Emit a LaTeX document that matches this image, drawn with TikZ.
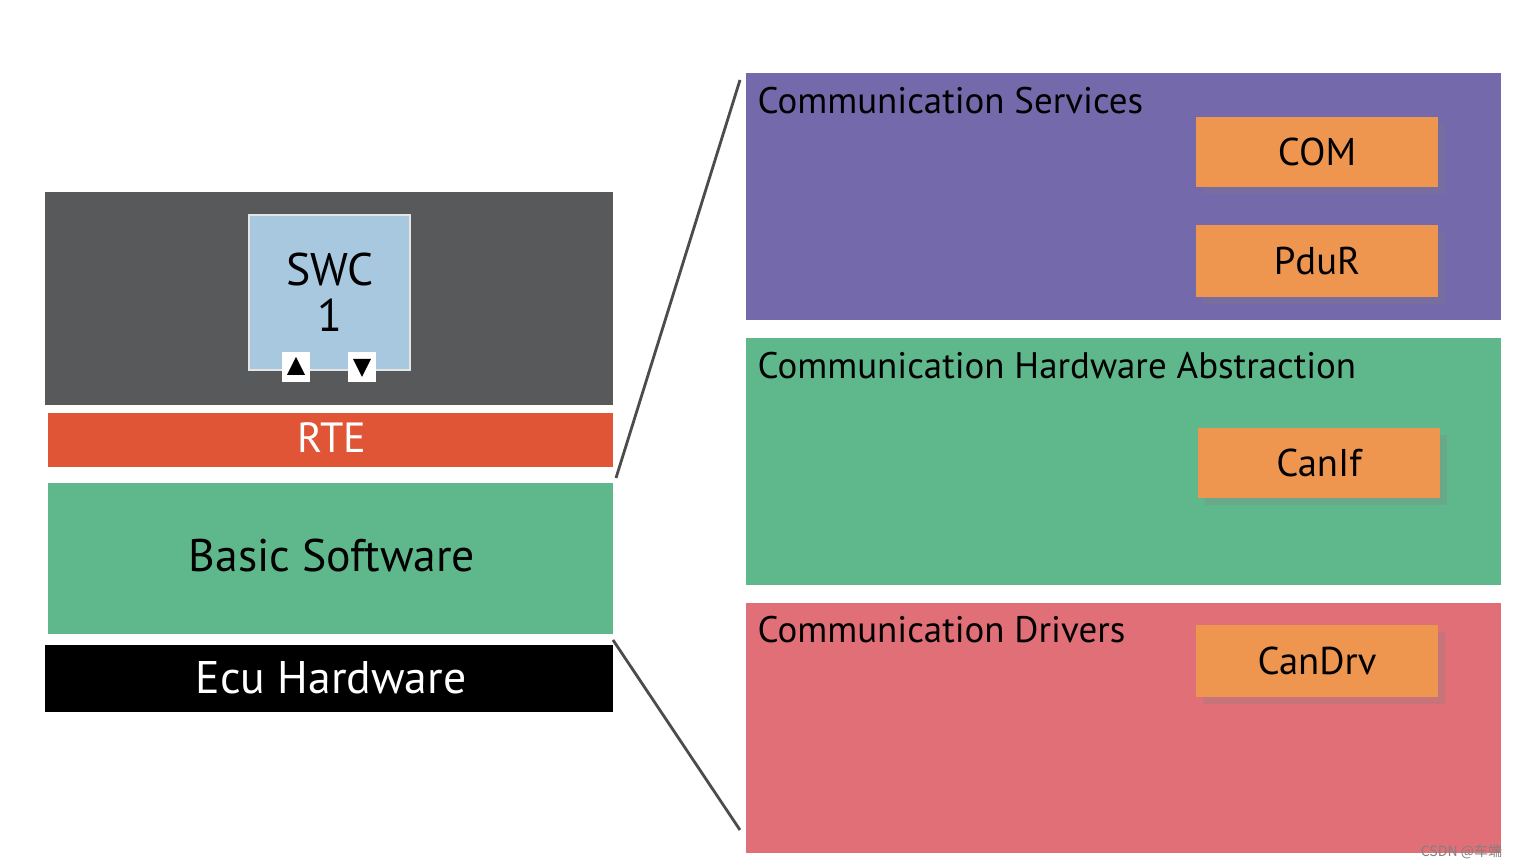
\documentclass[tikz,border=0pt]{standalone}
\usepackage{fontspec}
\usetikzlibrary{shadows}
\setmainfont{PT Sans}
\newfontfamily\cjk{Noto Sans CJK SC}
\definecolor{gr}{HTML}{58595B}
\definecolor{swc}{HTML}{A8C8E0}
\definecolor{rte}{HTML}{E05535}
\definecolor{bsw}{HTML}{5FB88C}
\definecolor{pur}{HTML}{7469AA}
\definecolor{pink}{HTML}{E06F78}
\definecolor{org}{HTML}{EE9550}
\begin{document}
\begin{tikzpicture}[x=0.01cm,y=-0.01cm,
 layer/.style={inner sep=0,outer sep=0},
 mod/.style={fill=org,inner sep=0,font=\fontsize{11}{13}\selectfont,drop shadow={opacity=0.25,shadow xshift=2pt,shadow yshift=-2pt}},
 ttl/.style={anchor=west,font=\fontsize{10.5}{12}\selectfont,inner sep=0}]
\useasboundingbox (0,0) rectangle (1520,868);
\fill[white] (0,0) rectangle (1520,868);
% left stack
\fill[gr] (45,192) rectangle (613,405);
\fill[swc,draw=white!80!gray,line width=0.6pt] (249,215) rectangle (410,370);
\node[font=\fontsize{13}{15}\selectfont,align=center] (swc) at (330,292) {SWC\\[-2pt]1};
\foreach \x/\r in {296/0,362/180}{
 \fill[white] (\x-14,352) rectangle (\x+14,382);
 \fill[black,rotate around={\r:(\x,367)}] (\x-9,375) -- (\x+9,375) -- (\x,357) -- cycle;}
\fill[rte,draw=white,line width=1.5pt] (45,410) rectangle (616,470);
\node[white,font=\fontsize{12}{14}\selectfont] (rte) at (332,438) {RTE};
\fill[bsw,draw=white,line width=1.5pt] (45,480) rectangle (616,637);
\node[font=\fontsize{13}{15}\selectfont] (bsw) at (332,556) {Basic Software};
\fill[black] (45,645) rectangle (613,712);
\node[white,font=\fontsize{13}{15}\selectfont] (ecu) at (331,678) {Ecu Hardware};
\coordinate (a1) at (616,478); \coordinate (b1) at (740,80);
\coordinate (a2) at (613,640); \coordinate (b2) at (740,830);
\draw[line width=0.8pt,gray!60!black] (a1) -- (b1) (a2) -- (b2);
% right
\fill[pur] (746,73) rectangle (1501,320);
\fill[bsw] (746,338) rectangle (1501,585);
\fill[pink] (746,603) rectangle (1501,853);
\node[ttl] (t1) at (757,101) {Communication Services};
\node[ttl] (t2) at (757,366) {Communication Hardware Abstraction};
\node[ttl] (t3) at (757,630) {Communication Drivers};
\node[mod,minimum width=2.42cm,minimum height=0.70cm] (com) at (1317,152) {COM};
\node[mod,minimum width=2.42cm,minimum height=0.72cm] (pdur) at (1317,261) {PduR};
\node[mod,minimum width=2.42cm,minimum height=0.69cm] (canif) at (1319,463) {CanIf};
\node[mod,minimum width=2.42cm,minimum height=0.72cm] (candrv) at (1317,661) {CanDrv};
\node[gray,font=\cjk\fontsize{4}{5}\selectfont,anchor=east,inner sep=0] (wm) at (1503,852) {CSDN @车端};
\end{tikzpicture}
\end{document}
